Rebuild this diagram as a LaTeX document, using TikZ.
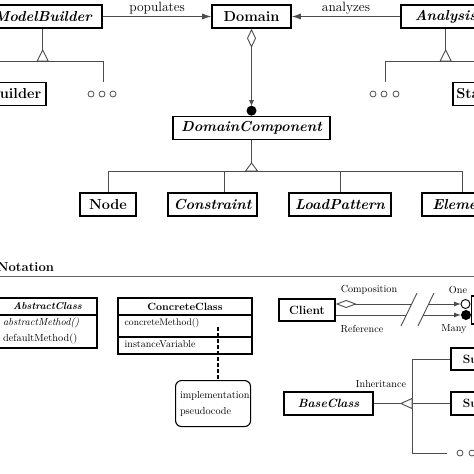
\documentclass[tikz,border=0pt]{standalone}
\usepackage{fontspec}
\usetikzlibrary{arrows.meta,calc}
\tikzset{
  bx/.style={draw=black, line width=1.6pt, minimum height=23pt, inner xsep=4pt, inner ysep=0pt, font=\fontsize{14.5}{16}\selectfont\bfseries},
  ibx/.style={bx, font=\fontsize{14.5}{16}\selectfont\bfseries\itshape},
  nbx/.style={draw=black, line width=1.5pt, minimum height=22pt, inner xsep=4pt, inner ysep=0pt, font=\fontsize{12}{14}\selectfont\bfseries},
  inbx/.style={nbx, font=\fontsize{12}{14}\selectfont\bfseries\itshape},
  npart/.style={draw=black, line width=1.5pt, inner sep=0pt, outer sep=0pt},
  conn/.style={draw=black!70, line width=0.9pt},
  tri/.style={draw=black!70, line width=0.9pt, fill=white},
  lbl/.style={font=\fontsize{13.5}{15}\selectfont, inner sep=0pt},
  sml/.style={font=\fontsize{10.2}{12}\selectfont, inner sep=0pt},
  mth/.style={font=\fontsize{10}{11}\selectfont, inner sep=0pt, anchor=base west},
  dot/.style={draw=black!70, line width=0.8pt, fill=white},
  tipa/.style={-{Latex[length=9pt,width=6pt]}},
  tipb/.style={-{Latex[length=7pt,width=5pt]}},
  dsh/.style={draw=black, line width=1.3pt, dash pattern=on 3.5pt off 2.5pt},
}
\begin{document}
\begin{tikzpicture}[x=1pt,y=-1pt]
\useasboundingbox (0,0) rectangle (474,474);
\clip (0,0) rectangle (474,474);

% ---------- top: classes ----------
\node[ibx, anchor=east, minimum width=119pt] (mb) at (103,16.5) {ModelBuilder};
\node[bx, minimum width=79pt] (dom) at (251.5,16.5) {Domain};
\node[ibx, minimum width=89.5pt] (an) at (445.7,16.5) {Analysis};
\node[bx, anchor=east, text width=92pt, align=right, inner xsep=5pt] (ub) at (47,94) {uilder};
\node[bx, anchor=west, text width=60pt, align=left, inner xsep=3.5pt] (sta) at (452,94) {Sta};
\node[ibx, minimum width=157pt] (dc) at (251.5,128) {DomainComponent};
\node[bx, minimum width=56pt] (nd) at (108,204.5) {Node};
\node[ibx, minimum width=89pt] (cs) at (212.5,204.5) {Constraint};
\node[ibx, minimum width=102pt] (lp) at (340,204.5) {LoadPattern};
\node[ibx, minimum width=80pt] (el) at (462,204.5) {Element};

% associations
\draw[conn, tipa] (mb.east) -- (dom.west) node[lbl, pos=0.5, anchor=base, yshift=5.5pt] {populates};
\draw[conn, tipa] (an.west) -- (dom.east) node[lbl, pos=0.5, anchor=base, yshift=5.5pt] {analyzes};

% ModelBuilder hierarchy
\draw[conn] (mb.south) -- (mb.south |- 0,50);
\draw[tri] (mb.south |- 0,50) -- ++(-5.5,11) -- ++(11,0) -- cycle;
\draw[conn] (ub.north) -- (ub.north |- 0,61) -- (103,61) -- (103,82);
\foreach \x in {91,102,113} \draw[dot] (\x,94) circle[radius=3pt];

% Analysis hierarchy
\draw[conn] (an.south) -- (an.south |- 0,50);
\draw[tri] (an.south |- 0,50) -- ++(-5.5,11) -- ++(11,0) -- cycle;
\draw[conn] (385,82) -- (385,61) -- (sta.north |- 0,61) -- (sta.north);
\foreach \x in {373,384,396} \draw[dot] (\x,94) circle[radius=3pt];

% Domain aggregates DomainComponent
\coordinate (ball) at ($(dc.north)+(0,-5)$);
\coordinate (balltip) at ($(dc.north)+(0,-9.5)$);
\draw[conn, {Diamond[open,length=19pt,width=9pt]}-{Latex[length=6pt,width=5pt]}] (dom.south) -- (balltip);
\fill[black] (ball) circle[radius=5pt];

% DomainComponent hierarchy
\draw[conn] (dc.south) -- (dc.south |- 0,163);
\draw[tri] (dc.south |- 0,163) -- ++(-6,8) -- ++(12,0) -- cycle;
\draw[conn] (nd.north |- 0,171) -- (el.north |- 0,171);
\foreach \n in {nd,lp,el} \draw[conn] (\n.north |- 0,171) -- (\n.north);
\draw[conn] ($(cs.north |- 0,171)+(11.5,0)$) -- ($(cs.north)+(11.5,0)$);

% ---------- Notation ----------
\node[anchor=base west, inner sep=0pt, font=\fontsize{13}{15}\selectfont\bfseries] (ntn) at (-3,271) {Notation};
\draw[black!60, line width=0.8pt] (-1,276) -- (475,276);

% AbstractClass
\node[npart, minimum width=99pt, minimum height=17pt, font=\fontsize{10}{12}\selectfont\bfseries\itshape] (ach) at (47.5,306.5) {AbstractClass};
\node[npart, minimum width=99pt, minimum height=33pt, anchor=north] (acb) at (ach.south) {};
\node[mth, font=\fontsize{10.3}{11}\selectfont\itshape] at (3,325.5) {abstractMethod()};
\node[mth, font=\fontsize{10.3}{11}\selectfont] at (3,341.5) {defaultMethod()};

% ConcreteClass
\node[npart, minimum width=134pt, minimum height=17pt, font=\fontsize{10.5}{12}\selectfont\bfseries] (cch) at (185,306.5) {ConcreteClass};
\node[npart, minimum width=134pt, minimum height=22pt, anchor=north] (ccm) at (cch.south) {};
\node[npart, minimum width=134pt, minimum height=17pt, anchor=north] (ccv) at (ccm.south) {};
\node[mth, font=\fontsize{9.6}{11}\selectfont] at (124.5,325) {concreteMethod()};
\node[mth] at (124.5,347.5) {instanceVariable};

\node[draw=black, line width=1.1pt, rounded corners=6pt, anchor=north west, text width=66pt, inner xsep=4.5pt, inner ysep=0pt, minimum height=46pt, align=left, font=\fontsize{10.2}{16}\selectfont] (impl) at (175,380) {implementation\\pseudocode};
\coordinate (cmx) at (218,327);
\draw[dsh] (cmx) -- (impl.north -| cmx);

% Client associations
\node[nbx, minimum width=56pt] (cl) at (307,310) {Client};
\coordinate (cT) at ($(cl.east)+(0,-6)$);
\coordinate (cB) at ($(cl.east)+(0,5)$);
\coordinate (one) at (465.5,304);
\coordinate (many) at (466,315);
\draw[conn, {Diamond[open,length=21pt,width=8pt]}-] (cT) -- (411.7,304);
\draw[conn] (cB) -- (406.3,315);
\draw[conn] (417,293) -- (401,326);
\draw[conn] (434,293) -- (418,326);
\draw[conn, tipb] (428.7,304) -- ($(one)+(-4.5,0)$);
\draw[conn, tipb] (423.3,315) -- ($(many)+(-5,0)$);
\draw[black, line width=1.6pt] (471.5,296) rectangle (520,324);
\draw[black, line width=0.9pt, fill=white] (one) circle[radius=4.5pt];
\fill[black] (many) circle[radius=5pt];
\node[sml] at (369,290) {Composition};
\node[sml] at (362,329) {Reference};
\node[sml] at (458,290) {One};
\node[sml] at (454,329) {Many};

% Inheritance
\node[inbx, minimum width=89pt, minimum height=23pt] (bc) at (328.5,403.5) {BaseClass};
\node[nbx, anchor=west, text width=60pt, align=left, inner xsep=12pt] (s1) at (450,359) {Su};
\node[nbx, anchor=west, text width=60pt, align=left, inner xsep=12pt, minimum height=23pt] (s2) at (450,403.5) {Su};
\coordinate (tapex) at (401,403.5);
\draw[conn] (bc.east) -- (tapex);
\draw[conn] (s1.west) -| (412,453) -- (447,453);
\draw[conn] (412,403.5) -- (s2.west);
\draw[tri] (tapex) -- (412,398.5) -- (412,408.5) -- cycle;
\foreach \x in {460,472} \draw[dot] (\x,453) circle[radius=3pt];
\node[sml] at (381,384) {Inheritance};
\end{tikzpicture}
\end{document}
